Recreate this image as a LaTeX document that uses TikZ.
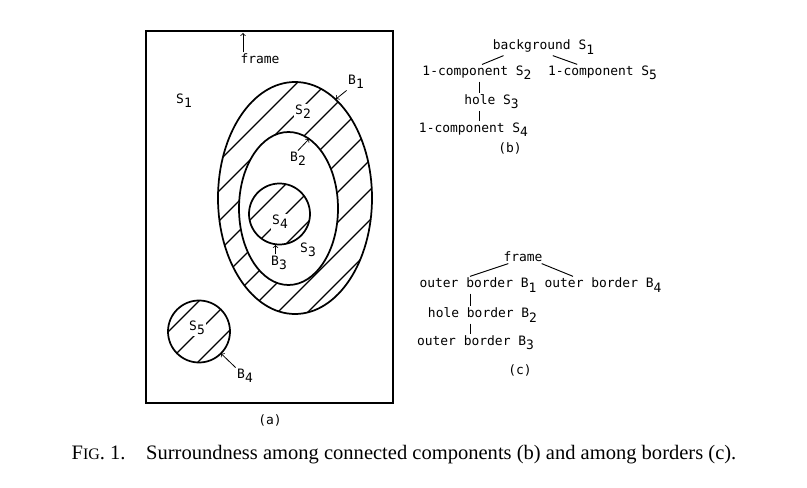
\documentclass[tikz,border=0pt]{standalone}
\usepackage{fontspec}
\setmainfont{Liberation Serif}
\newfontfamily\lblfont{DejaVu Sans Mono}
\newcommand{\lowix}[1]{\raisebox{-0.6ex}{#1}}
\tikzset{
  lbl/.style={font=\lblfont\fontsize{9.7}{11}\selectfont, inner sep=1pt},
  outline/.style={line width=1.3pt},
  hatch/.style={line width=1pt},
  tree/.style={line width=0.7pt},
}

\begin{document}
\begin{tikzpicture}[x=7.5pt,y=-7.5pt]
\useasboundingbox (0,0) rectangle (80.7,48.8);
% panel (a): frame with components
\draw[outline] (14.6,3.1) rectangle (39.3,40.3);
% hatched ring S2
\begin{scope}
  \clip (29.5,19.8) ellipse [x radius=7.7, y radius=11.6];
  \foreach \c in {38,41,...,62} \draw[hatch] (\c,0) -- ({\c-40},40);
\end{scope}
\fill[white] (28.85,20.85) ellipse [x radius=4.95, y radius=7.65];
% hatched S4 and S5
\begin{scope}
  \clip (27.95,21.4) circle [radius=3.05];
  \foreach \c in {47,50,53} \draw[hatch] (\c,0) -- ({\c-40},40);
\end{scope}
\begin{scope}
  \clip (19.9,33.15) circle [radius=3.1];
  \foreach \c in {50,53,56} \draw[hatch] (\c,0) -- ({\c-40},40);
\end{scope}
\draw[outline] (29.5,19.8) ellipse [x radius=7.7, y radius=11.6];
\draw[outline] (28.85,20.85) ellipse [x radius=4.95, y radius=7.65];
\draw[outline] (27.95,21.4) circle [radius=3.05];
\draw[outline] (19.9,33.15) circle [radius=3.1];
% labels in (a)
\node[lbl] (lfr) at (26.0,5.9) {frame};
\node[lbl] (ls1) at (18.4,10.1) {S\lowix{1}};
\node[lbl] (lb1) at (35.6,8.2) {B\lowix{1}};
\node[lbl, fill=white] (ls2) at (30.3,11.2) {S\lowix{2}};
\node[lbl] (lb2) at (29.8,15.9) {B\lowix{2}};
\node[lbl, fill=white] (ls4) at (28.0,22.2) {S\lowix{4}};
\node[lbl] (ls3) at (30.8,25.0) {S\lowix{3}};
\node[lbl] (lb3) at (27.9,26.3) {B\lowix{3}};
\node[lbl, fill=white] (ls5) at (19.7,32.8) {S\lowix{5}};
\node[lbl] (lb4) at (24.5,37.6) {B\lowix{4}};
\node[lbl] (la) at (27.0,42.0) {(a)};
\coordinate (tfr) at (24.3,3.3);
\coordinate (tb1) at (33.6,9.9);
\coordinate (tb2) at (30.9,13.9);
\coordinate (tb3) at (27.55,24.5);
\coordinate (tb4) at (22.1,35.35);
\draw[->, semithick] (lfr.north -| tfr) -- (tfr);
\draw[->, semithick] (lb1.south west) -- (tb1);
\draw[->, semithick] (lb2.north) -- (tb2);
\draw[->, semithick] (lb3.north -| tb3) -- (tb3);
\draw[->, semithick] (lb4.north west) -- (tb4);
% panel (b): surroundness among components
\node[lbl] (bg) at (54.35,4.7) {background S\lowix{1}};
\node[lbl] (c2) at (47.7,7.3) {1-component S\lowix{2}};
\node[lbl] (c5) at (60.25,7.3) {1-component S\lowix{5}};
\node[lbl] (h3) at (49.15,10.2) {hole S\lowix{3}};
\node[lbl] (c4) at (47.35,13.0) {1-component S\lowix{4}};
\node[lbl] (lbb) at (51.0,14.8) {(b)};
\coordinate (vb) at (47.9,0);
\draw[tree] ([xshift=-30pt]bg.south) -- ([xshift=3.75pt]c2.north);
\draw[tree] ([xshift=7pt]bg.south) -- ([xshift=-19pt]c5.north);
\draw[tree] (c2.south -| vb) -- (h3.north -| vb);
\draw[tree] (h3.south -| vb) -- (c4.north -| vb);
% panel (c): surroundness among borders
\node[lbl] (fr) at (52.3,25.7) {frame};
\node[lbl] (o1) at (47.8,28.5) {outer border B\lowix{1}};
\node[lbl] (o4) at (60.3,28.5) {outer border B\lowix{4}};
\node[lbl] (h2) at (48.25,31.5) {hole border B\lowix{2}};
\node[lbl] (o3) at (47.55,34.3) {outer border B\lowix{3}};
\node[lbl] (lbc) at (52.0,37.0) {(c)};
\coordinate (vc) at (47.0,0);
\draw[tree] ([xshift=-11pt]fr.south) -- ([xshift=-6pt]o1.north);
\draw[tree] ([xshift=14pt]fr.south) -- ([xshift=-22.5pt]o4.north);
\draw[tree] (o1.south -| vc) -- (h2.north -| vc);
\draw[tree] (h2.south -| vc) -- (o3.north -| vc);
% caption
\node[font=\fontsize{15.4}{18}\selectfont] (cap) at (40.4,45.5)
  {F{\fontsize{12}{14}\selectfont IG}. 1.\hspace{1em}Surroundness among connected components (b) and among borders (c).};
\end{tikzpicture}
\end{document}
